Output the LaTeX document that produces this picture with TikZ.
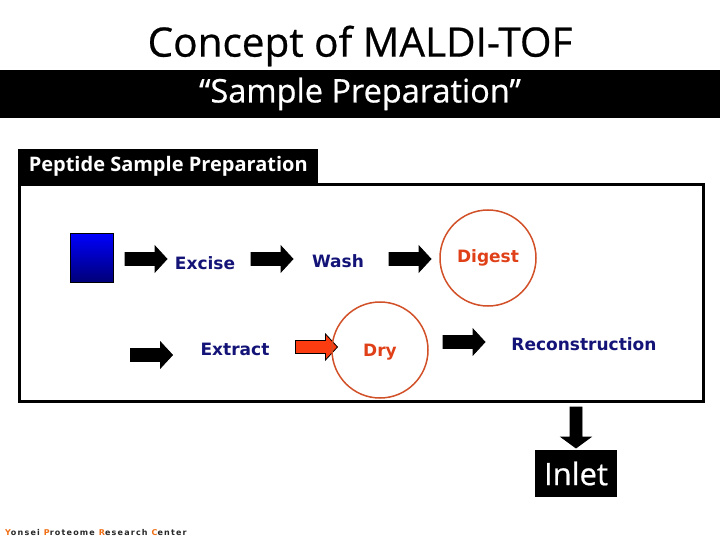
\documentclass[tikz,border=0pt]{standalone}
\usepackage{fontspec}
\setmainfont{Open Sans}
\newfontfamily\labfont{DejaVu Sans}
\newfontfamily\footfont[LetterSpace=15]{DejaVu Sans}
\newfontfamily\semifont[FakeBold=0.6]{Open Sans}
\usetikzlibrary{shapes.geometric}
\definecolor{navy}{RGB}{20,20,120}
\definecolor{orred}{RGB}{224,64,24}
\definecolor{circ}{RGB}{210,80,40}
\definecolor{redarr}{RGB}{250,60,16}
\definecolor{footor}{RGB}{240,110,20}
\definecolor{footdk}{RGB}{40,40,40}
\tikzset{
  navytext/.style={text=navy,font=\labfont\bfseries\fontsize{17}{17}\selectfont,inner sep=0},
  redtext/.style={text=orred,font=\labfont\bfseries\fontsize{17}{17}\selectfont,inner sep=0},
  stepcircle/.style={circle,draw=circ,line width=1.5pt,minimum size=96pt,inner sep=0},
  barrow/.pic={\path[pic actions,draw=black,line width=0.8pt] (-21,-6.5) -- (9,-6.5) -- (9,-13) -- (21,0) -- (9,13) -- (9,6.5) -- (-21,6.5) -- cycle;},
  darrow/.pic={\path[pic actions,draw=black,line width=0.8pt] (-6,-20) -- (6,-20) -- (6,10) -- (15,10) -- (0,21) -- (-15,10) -- (-6,10) -- (-6,-20) -- cycle;}
}
\begin{document}
\begin{tikzpicture}[x=1pt,y=-1pt]
\useasboundingbox[fill=white] (0,0) rectangle (720,540);
% title
\node (title) at (360,46) {\semifont\fontsize{40.5}{40.5}\selectfont Concept of MALDI-TOF};
\fill (0,70) rectangle (720,118);
\node[text=white] (sub) at (360,94) {\semifont\fontsize{32.5}{32.5}\selectfont “Sample Preparation”};
% panel
\node[fill=black,text=white,anchor=north west,minimum width=300pt,minimum height=34pt,inner sep=0,font=\bfseries\fontsize{20}{20}\selectfont] (tab) at (18,149) {Peptide Sample Preparation};
\node[draw=black,line width=3pt,anchor=north west,minimum width=684pt,minimum height=217pt,inner sep=0] (panel) at (18,183) {};
% blue gel
\node[draw=black,line width=0.8pt,top color=blue,bottom color={rgb,255:red,0;green,0;blue,120},minimum width=43pt,minimum height=49pt,inner sep=0] (gel) at (91.5,257.5) {};
% row 1
\pic[fill=black] at (146,259) {barrow};
\node[navytext] (excise) at (205,263) {Excise};
\pic[fill=black] at (272,259) {barrow};
\node[navytext] (wash) at (338,261) {Wash};
\pic[fill=black] at (410,259) {barrow};
\node[stepcircle] (digestc) at (488,258) {};
\node[redtext] (digest) at (488,258) {Digest};
% row 2
\pic[fill=black] at (151.5,355) {barrow};
\node[navytext] (extract) at (235,349) {Extract};
\pic[fill=redarr] at (316.5,347) {barrow};
\node[stepcircle] (dryc) at (380,350) {};
\node[redtext] (dry) at (380,352) {Dry};
\pic[fill=black] at (464,342) {barrow};
\node[navytext] (recon) at (584,344) {Reconstruction};
% inlet
\pic[fill=black] at (576,427) {darrow};
\node[fill=black,text=white,minimum width=82pt,minimum height=47pt,inner sep=0,font=\semifont\fontsize{31}{31}\selectfont] (inlet) at (576,473.5) {Inlet};
% footer
\node[anchor=west,inner sep=0,font=\footfont\bfseries\fontsize{8}{8}\selectfont] (foot) at (5,533) {\textcolor{footor}{Y}\textcolor{footdk}{onsei} \textcolor{footor}{P}\textcolor{footdk}{roteome} \textcolor{footor}{R}\textcolor{footdk}{esearch} \textcolor{footor}{C}\textcolor{footdk}{enter}};
\end{tikzpicture}
\end{document}
